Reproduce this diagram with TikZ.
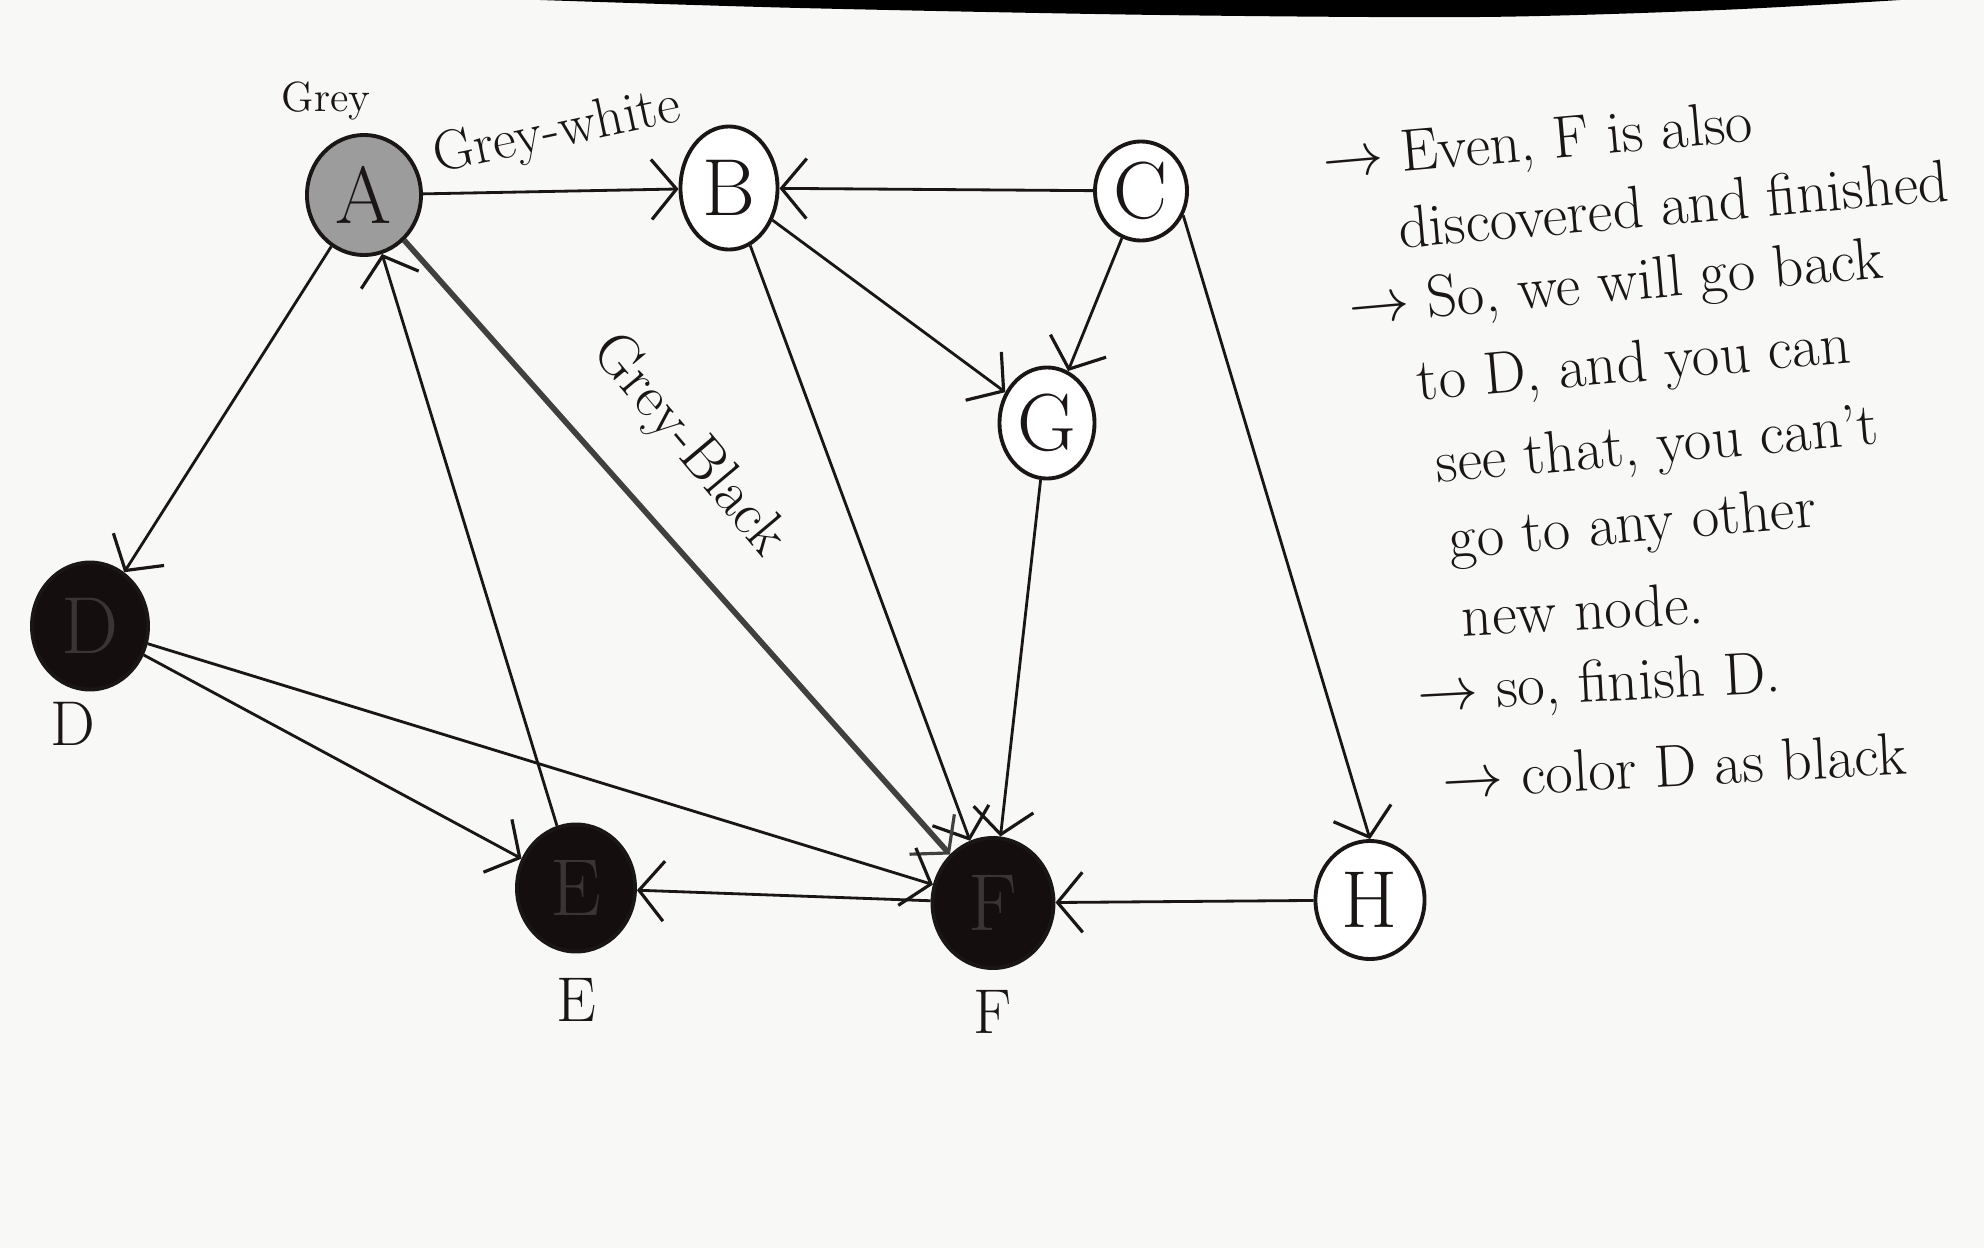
\documentclass[tikz,border=0pt]{standalone}
\usetikzlibrary{arrows.meta,shapes.geometric}
\definecolor{paper}{HTML}{F8F8F6}
\definecolor{ink}{HTML}{1A1616}
\definecolor{greyfill}{HTML}{9C9C9C}
\definecolor{darkfill}{HTML}{140E0E}
\definecolor{hidden}{HTML}{3A3434}
\begin{document}
\begin{tikzpicture}[x=0.01cm,y=-0.01cm,
  vtx/.style={ellipse,draw=ink,line width=1.1pt,inner sep=0pt,font=\fontsize{23}{27}\selectfont,text=ink,fill=white},
  visited/.style={vtx,fill=greyfill},
  finished/.style={vtx,fill=darkfill,text=hidden},
  edge/.style={draw=ink,line width=0.8pt,-{Straight Barb[length=2.5mm,width=6mm,line width=0.9pt]}},
  heavy/.style={edge,draw=black!75,line width=1.6pt},
  lbl/.style={font=\fontsize{16}{19}\selectfont,text=ink},
  vlbl/.style={font=\fontsize{18}{22}\selectfont,text=ink},
  note/.style={font=\fontsize{17}{20}\selectfont,text=ink,anchor=west,inner sep=0pt}
]
\useasboundingbox (0,0) rectangle (1984,1248);
\fill[paper] (0,0) rectangle (1984,1248);
\fill[black] plot[smooth] coordinates {(540,0) (800,8) (1160,15) (1480,17) (1720,10) (1900,0)} -- cycle;

% vertices
\node[visited,minimum width=1.14cm,minimum height=1.20cm] (A) at (364,195) {A};
\node[vtx,minimum width=0.97cm,minimum height=1.23cm] (B) at (729,188) {B};
\node[vtx,minimum width=0.92cm,minimum height=0.99cm] (C) at (1141,191) {C};
\node[vtx,minimum width=0.95cm,minimum height=1.11cm] (G) at (1047,423) {G};
\node[finished,minimum width=1.16cm,minimum height=1.27cm] (D) at (90,626) {D};
\node[finished,minimum width=1.18cm,minimum height=1.27cm] (E) at (576,888) {E};
\node[finished,minimum width=1.21cm,minimum height=1.30cm] (F) at (993,903) {F};
\node[vtx,minimum width=1.09cm,minimum height=1.18cm] (H) at (1370,900) {H};

% vertex captions
\node[lbl,font=\fontsize{12}{14}\selectfont] (greyA) at (326,101) {Grey};
\node[vlbl] (capD) at (73,724) {D};
\node[vlbl] (capE) at (576,1000) {E};
\node[vlbl] (capF) at (993,1012) {F};

% edges
\draw[edge] (A) -- (B);
\draw[edge] (C) -- (B);
\draw[edge] (C) -- (G);
\draw[edge] (B) -- (G);
\draw[edge] (B) -- (F);
\draw[edge] (G) -- (F);
\draw[edge] (C.-30) -- (H.north);
\draw[heavy] (A) -- (F);
\draw[edge] (A) -- (D);
\draw[edge] (E) -- (A);
\draw[edge] (D) -- (E);
\draw[edge] (D) -- (F);
\draw[edge] (F) -- (E);
\draw[edge] (H) -- (F);

% edge labels
\node[lbl,rotate=12] (gw) at (557,133) {Grey-white};
\node[lbl,font=\fontsize{17}{20}\selectfont,rotate=-50] (gb) at (688,446) {Grey-Black};

% notes
\node[note,rotate=5] (n1) at (1322,164) {$\rightarrow$ Even, F is also};
\node[note,rotate=5] (n2) at (1398,228) {discovered and finished};
\node[note,rotate=5] (n3) at (1348,310) {$\rightarrow$ So, we will go back};
\node[note,rotate=5] (n4) at (1417,386) {to D, and you can};
\node[note,rotate=5] (n5) at (1436,468) {see that, you can't};
\node[note,rotate=5] (n6) at (1449,544) {go to any other};
\node[note,rotate=3] (n7) at (1461,616) {new node.};
\node[note,rotate=3] (n8) at (1417,696) {$\rightarrow$ so, finish D.};
\node[note,rotate=3] (n9) at (1442,778) {$\rightarrow$ color D as black};
\end{tikzpicture}
\end{document}
